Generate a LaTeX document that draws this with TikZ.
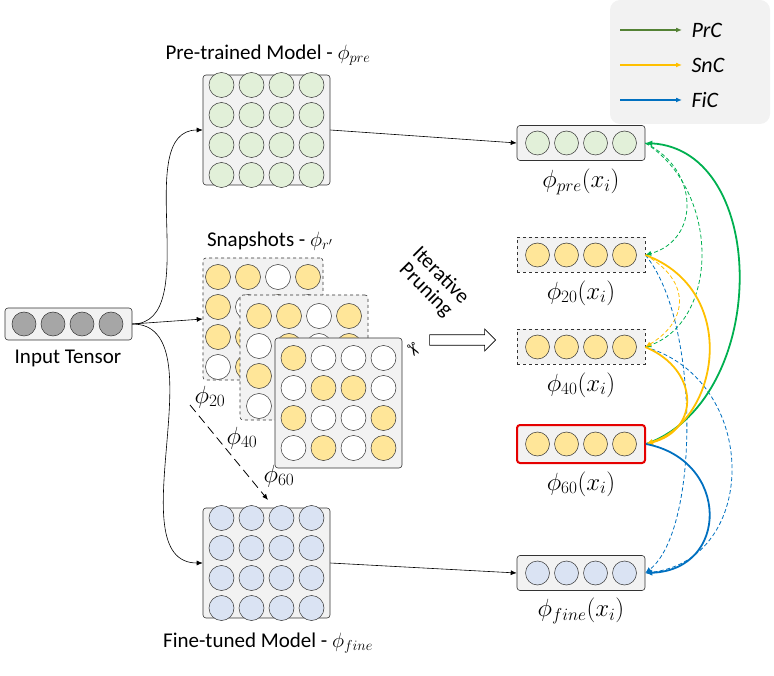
\documentclass[tikz,border=0pt]{standalone}
\usepackage{fontspec}
\setmainfont{Carlito}
\newfontfamily\symf{DejaVu Sans}
\usetikzlibrary{arrows.meta,shapes.arrows}
\definecolor{bgray}{HTML}{F2F2F2}
\definecolor{cg}{HTML}{E2F0D9}
\definecolor{cy}{HTML}{FFE699}
\definecolor{cb}{HTML}{DAE3F3}
\definecolor{ci}{HTML}{A6A6A6}
\definecolor{lg}{HTML}{00B050}
\definecolor{ly}{HTML}{FFC000}
\definecolor{lb}{HTML}{0070C0}
\definecolor{dg}{HTML}{548235}
\begin{document}
\begin{tikzpicture}[x=1pt,y=-1pt,
  box/.style={draw=black!80,fill=bgray,rounded corners=3pt,line width=0.6pt},
  cell/.style={draw=black!80,line width=0.5pt},
  lbl/.style={font=\fontsize{21}{23}\selectfont},
  vl/.style={font=\fontsize{24}{26}\selectfont},
  ar/.style={-{Latex[length=6pt,width=5pt]},line width=0.6pt},
  ca/.style={-{Latex[length=7pt,width=6pt]},line width=1.8pt},
  da/.style={-{Latex[length=6pt,width=5pt]},line width=0.8pt,dash pattern=on 4pt off 2.5pt}]
\useasboundingbox (0,0) rectangle (774,676);
% legend
\node[fill=bgray,rounded corners=10pt,minimum width=160pt,minimum height=124pt] (leg) at (690,62) {};
\coordinate (l1) at (620,30);\coordinate (l1e) at (682,30);
\coordinate (l2) at (620,65);\coordinate (l2e) at (682,65);
\coordinate (l3) at (620,100);\coordinate (l3e) at (682,100);
\draw[ar,dg,line width=1.5pt] (l1) -- (l1e);
\draw[ar,ly,line width=1.5pt] (l2) -- (l2e);
\draw[ar,lb,line width=1.5pt] (l3) -- (l3e);
\node[font=\fontsize{22}{24}\selectfont\itshape,anchor=west] (t1) at (688,30) {PrC};
\node[font=\fontsize{22}{24}\selectfont\itshape,anchor=west] (t2) at (688,65) {SnC};
\node[font=\fontsize{22}{24}\selectfont\itshape,anchor=west] (t3) at (688,100) {FiC};
% input
\node[box,minimum width=127pt,minimum height=32pt] (in) at (68.5,324) {};
\foreach \i in {0,...,3} \draw[cell,fill=ci] (24+\i*29,324) circle (12pt);
\node[lbl] (inl) at (68,358) {Input Tensor};
% matrices
\newcommand{\mymat}[3]{%
  \foreach \r [count=\ri from 0] in {#3} {
    \foreach \c [count=\ci from 0] in \r {
      \draw[cell,fill=\c] (#1-45+\ci*30,#2-45+\ri*30) circle (12.5pt);}}}
\node[box,minimum width=127pt,minimum height=110pt] (pre) at (266.5,130) {};
\mymat{266.5}{130}{{cg,cg,cg,cg},{cg,cg,cg,cg},{cg,cg,cg,cg},{cg,cg,cg,cg}}
\node[lbl] (prel) at (268,55) {Pre-trained Model - $\phi_{pre}$};
\node[box,dashed,minimum width=120pt,minimum height=122pt] (s1) at (263,319) {};
\mymat{263}{322}{{cy,cy,white,cy},{cy,white,cy,white},{cy,cy,white,cy},{white,cy,white,cy}}
\node[box,dashed,minimum width=128pt,minimum height=125pt] (s2) at (304,357.5) {};
\mymat{304}{361}{{cy,cy,white,cy},{white,cy,white,cy},{cy,white,cy,white},{white,cy,white,cy}}
\node[box,minimum width=127pt,minimum height=130pt] (s3) at (338.5,403) {};
\mymat{338.5}{403}{{cy,white,white,white},{white,cy,cy,white},{cy,white,white,cy},{white,cy,white,cy}}
\node[lbl] (snl) at (270,241) {Snapshots - $\phi_{r'}$};
\node[box,minimum width=127pt,minimum height=110pt] (fine) at (266.5,563) {};
\mymat{266.5}{563}{{cb,cb,cb,cb},{cb,cb,cb,cb},{cb,cb,cb,cb},{cb,cb,cb,cb}}
\node[lbl] (finel) at (268,643) {Fine-tuned Model - $\phi_{fine}$};
\coordinate (dA) at (190,405);\coordinate (dB) at (268,500);
\draw[ar,dash pattern=on 9pt off 5pt,line width=0.8pt] (dA) -- (dB);
\node[vl] (p20) at (210,397) {$\phi_{20}$};
\node[vl] (p40) at (242,438) {$\phi_{40}$};
\node[vl] (p60) at (279,476) {$\phi_{60}$};
% input arrows
\draw[ar] (in.east) to[out=0,in=180,looseness=0.9] (pre.west);
\draw[ar] (in.east) -- (s1.west);
\draw[ar] (in.east) to[out=0,in=180,looseness=0.9] (fine.west);
% pruning
\node[rotate=-45,align=center,font=\fontsize{21}{21}\selectfont] (ip) at (433,283) {Iterative\\Pruning};
\node[font=\symf\fontsize{18}{18}\selectfont,rotate=-60] (sc) at (413,350) {✂};
\node[draw,single arrow,minimum height=66pt,minimum width=22pt,single arrow head extend=4pt,line width=0.6pt,fill=white] (pa) at (460,340) {};
% vectors
\newcommand{\myvec}[3]{\foreach \i in {0,...,3} \draw[cell,fill=#3] (#1-43.5+\i*29,#2) circle (12pt);}
\node[box,minimum width=128pt,minimum height=35pt] (v0) at (581,143) {};\myvec{581}{143}{cg}
\node[box,dashed,rounded corners=0pt,minimum width=128pt,minimum height=35pt] (v20) at (581,255) {};\myvec{581}{255}{cy}
\node[box,dashed,rounded corners=0pt,minimum width=128pt,minimum height=35pt] (v40) at (581,347) {};\myvec{581}{347}{cy}
\node[box,draw=red!90!black,line width=2pt,minimum width=128pt,minimum height=38pt] (v60) at (581,444) {};\myvec{581}{444}{cy}
\node[box,minimum width=128pt,minimum height=35pt] (vf) at (581,573) {};\myvec{581}{573}{cb}
\node[vl] (v0l) at (581,182) {$\phi_{pre}(x_i)$};
\node[vl] (v20l) at (581,293) {$\phi_{20}(x_i)$};
\node[vl] (v40l) at (581,385) {$\phi_{40}(x_i)$};
\node[vl] (v60l) at (581,484) {$\phi_{60}(x_i)$};
\node[vl] (vfl) at (581,611) {$\phi_{fine}(x_i)$};
\draw[ar] (pre.east) -- (v0.west);
\draw[ar] (fine.east) -- (vf.west);
% relations
\draw[da,lg] (v0.east) .. controls (700,170) and (700,240) .. (v20.east);
\draw[da,lg] (v0.east) .. controls (720,190) and (720,320) .. (v40.east);
\draw[da,ly] (v20.east) .. controls (690,280) and (690,320) .. (v40.east);
\draw[da,lb] (v20.east) .. controls (700,320) and (700,530) .. (vf.east);
\draw[da,lb] (v40.east) .. controls (760,380) and (760,560) .. (vf.east);
\draw[ca,lg] (v60.east) .. controls (770,400) and (770,150) .. (v0.east);
\draw[ca,ly] (v20.east) .. controls (740,290) and (720,420) .. (v60.east);
\draw[ca,ly] (v40.east) .. controls (700,370) and (700,430) .. (v60.east);
\draw[ca,lb] (v60.east) .. controls (730,460) and (730,570) .. (vf.east);
\end{tikzpicture}
\end{document}
